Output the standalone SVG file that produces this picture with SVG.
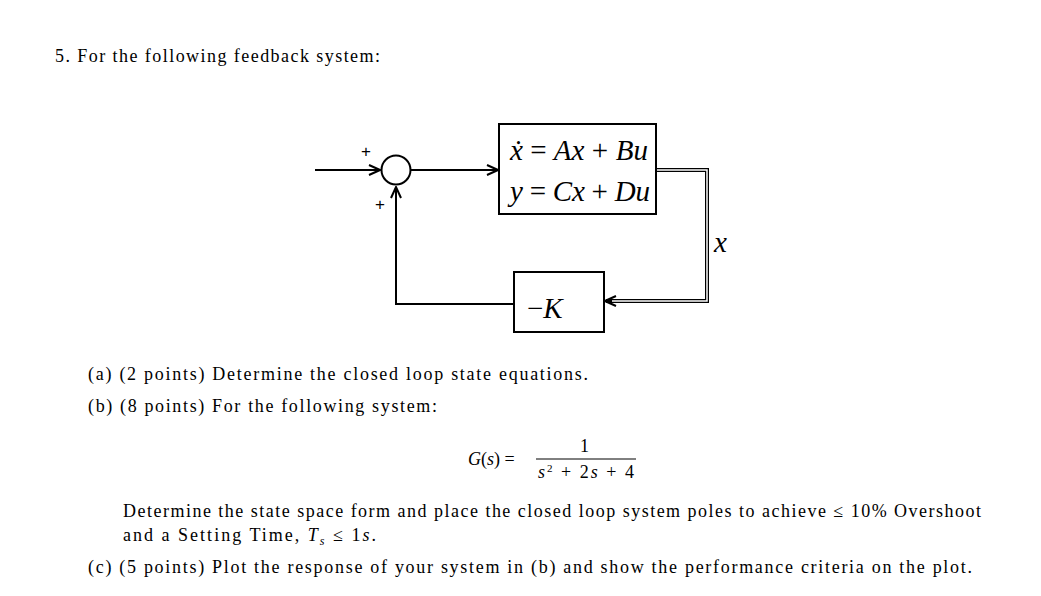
<svg xmlns="http://www.w3.org/2000/svg" width="1041" height="596" viewBox="0 0 1041 596">
<defs>
<marker id="ah" viewBox="0 0 14 14" refX="13" refY="7" markerWidth="14" markerHeight="14" markerUnits="userSpaceOnUse" orient="auto"><path d="M2,2 L13,7 L2,12" fill="none" stroke="#000" stroke-width="2"/></marker>
</defs>
<style>
.t{font-family:"Liberation Serif",serif;font-size:18px;fill:#000}
.m{font-family:"Liberation Serif",serif;font-style:italic;font-size:29px;fill:#000}
.ln{fill:none;stroke:#000;stroke-width:2}
.bx{fill:#fff;stroke:#000;stroke-width:2}
.p{font-family:"Liberation Sans",sans-serif;font-size:17px}
</style>
<rect width="1041" height="596" fill="#fff"/>
<text class="t" x="55" y="62" textLength="325" lengthAdjust="spacing">5. For the following feedback system:</text>
<g id="connectors">
<line class="ln" x1="315" y1="170" x2="380" y2="170" marker-end="url(#ah)"/>
<line class="ln" x1="411" y1="170" x2="498" y2="170" marker-end="url(#ah)"/>
<path d="M656,170 H707 V301 H606" fill="none" stroke="#000" stroke-width="4"/>
<path d="M656,170 H707 V301 H606" fill="none" stroke="#fff" stroke-width="1.5"/>
<line class="ln" x1="612" y1="301" x2="605" y2="301" marker-end="url(#ah)"/>
<path class="ln" d="M514,304 H396 V187" marker-end="url(#ah)"/>
</g>
<g id="sum"><circle cx="396" cy="170" r="14.5" class="bx"/>
<text class="p" x="361" y="157">+</text><text class="p" x="375" y="210">+</text></g>
<g id="plant"><rect class="bx" x="499" y="124" width="157" height="90"/>
<text class="m" x="510" y="160" textLength="138" lengthAdjust="spacing">ẋ <tspan font-style="normal">=</tspan> Ax <tspan font-style="normal">+</tspan> Bu</text>
<text class="m" x="510" y="201" textLength="140" lengthAdjust="spacing">y <tspan font-style="normal">=</tspan> Cx <tspan font-style="normal">+</tspan> Du</text></g>
<g id="xlabel"><text class="m" x="714" y="252">x</text></g>
<g id="gain"><rect class="bx" x="514" y="272" width="90" height="60"/>
<text class="m" x="527" y="318" font-size="40"><tspan font-style="normal">−</tspan>K</text></g>
<text class="t" x="88" y="380" textLength="500" lengthAdjust="spacing">(a)  (2 points)  Determine the closed loop state equations.</text>
<text class="t" x="88" y="412" textLength="349" lengthAdjust="spacing">(b)  (8 points)  For the following system:</text>
<text class="t" x="468" y="465"><tspan font-style="italic">G</tspan>(<tspan font-style="italic">s</tspan>) =</text>
<text class="t" x="580" y="452" font-size="16">1</text>
<line x1="536" y1="459" x2="636" y2="459" stroke="#000" stroke-width="1"/>
<text class="t" x="538" y="478" font-size="16" textLength="96" lengthAdjust="spacing"><tspan font-style="italic">s</tspan><tspan dy="-6" font-size="11">2</tspan><tspan dy="6"> + 2</tspan><tspan font-style="italic">s</tspan> + 4</text>
<text class="t" x="123" y="517" textLength="858" lengthAdjust="spacing">Determine the state space form and place the closed loop system poles to achieve ≤ 10% Overshoot</text>
<text class="t" x="123" y="541" textLength="253" lengthAdjust="spacing">and a Setting Time, <tspan font-style="italic">T</tspan><tspan font-style="italic" font-size="12" dy="4">s</tspan><tspan dy="-4"> ≤ 1</tspan><tspan font-style="italic">s</tspan>.</text>
<text class="t" x="88" y="573" textLength="884" lengthAdjust="spacing">(c)  (5 points)  Plot the response of your system in (b) and show the performance criteria on the plot.</text>
</svg>
